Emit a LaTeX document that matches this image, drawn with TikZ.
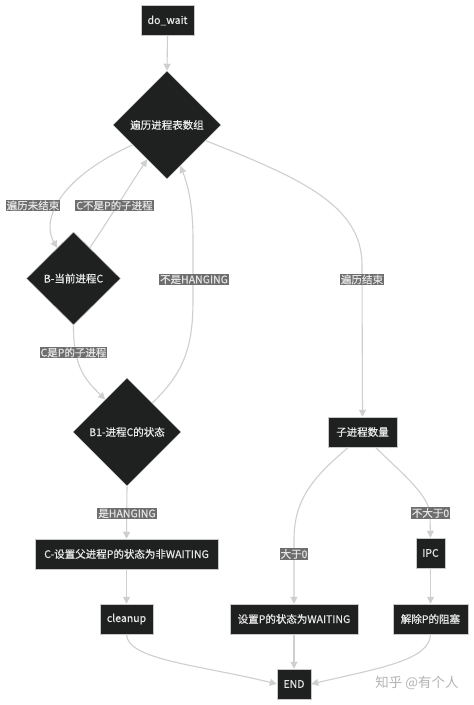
\documentclass[tikz,border=0pt]{standalone}
\usepackage{fontspec}
\setmainfont[FakeBold=0.6]{Noto Sans CJK SC}
\newfontfamily\wmfont{Noto Sans CJK SC}
\usetikzlibrary{shapes.geometric,arrows.meta}
\definecolor{nodefill}{HTML}{1F2020}
\definecolor{nodeline}{HTML}{C8C8C8}
\definecolor{nodetext}{HTML}{E8E8E8}
\definecolor{edgecol}{HTML}{CFCFCF}
\definecolor{lblfill}{HTML}{6E6E6E}
\definecolor{lbltext}{HTML}{E4E4E4}
\definecolor{wmark}{HTML}{B4B4B4}
\begin{document}
\begin{tikzpicture}[x=1pt,y=-1pt,
  txt/.style={font=\fontsize{10.5}{12}\selectfont},
  box/.style={txt, draw=nodeline, fill=nodefill, text=nodetext, line width=0.5pt, inner sep=0pt, minimum height=30pt},
  dia/.style={txt, diamond, draw=nodeline, fill=nodefill, text=nodetext, line width=0.5pt, inner sep=0pt, aspect=1},
  lbl/.style={txt, fill=lblfill, text=lbltext, inner sep=1pt},
  edge/.style={draw=edgecol, line width=1.1pt, -{Triangle[length=7pt,width=7pt,fill=edgecol]}},
  plain/.style={draw=edgecol, line width=1.1pt}
]
\useasboundingbox (0,0) rectangle (474,705);
\fill[white] (0,0) rectangle (474,705);

% nodes
\node[box, minimum width=53pt] (dowait) at (167.5,20.5) {do\_wait};
\node[dia, minimum width=108pt, minimum height=108pt] (d1) at (167,125) {遍历进程表数组};
\node[dia, minimum width=94pt, minimum height=93pt] (b) at (73.5,278.5) {B-当前进程C};
\node[dia, minimum width=108pt, minimum height=108pt] (b1) at (127,432) {B1-进程C的状态};
\node[box, minimum width=183pt] (c) at (126.5,554) {C-设置父进程P的状态为非WAITING};
\node[box, minimum width=53pt] (cleanup) at (126.5,619) {cleanup};
\node[box, minimum width=69pt] (zi) at (362.5,432) {子进程数量};
\node[box, minimum width=29pt] (ipc) at (430.5,553) {IPC};
\node[box, minimum width=128pt] (setw) at (294,619) {设置P的状态为WAITING};
\node[box, minimum width=75pt] (unblock) at (430.5,619) {解除P的阻塞};
\node[box, minimum width=34pt] (endn) at (294,684) {END};

% edges
\draw[edge] (dowait.south) -- (d1.north);
\draw[edge] (d1.210) .. controls (55,180) and (42,222) .. (b.118);
\draw[edge] (b.62) .. controls (110,218) and (130,185) .. (d1.240);
\draw[edge] (b.south) .. controls (73,370) and (88,382) .. (b1.124);
\draw[edge] (b1.49) .. controls (185,372) and (193,345) .. (193,300)
   -- (193,240) .. controls (193,205) and (188,185) .. (d1.288);
\draw[edge] (d1.338) .. controls (300,178) and (362,205) .. (362,265) -- (zi.north);
\draw[edge] (b1.south) -- (c.north);
\draw[edge] (c.south) -- (cleanup.north);
\draw[edge] ([xshift=-14pt]zi.south) .. controls (312,478) and (294,500) .. (294,540) -- (setw.north);
\draw[edge] ([xshift=13pt]zi.south) .. controls (398,470) and (430,495) .. (430,515) -- (ipc.north);
\draw[edge] (ipc.south) -- (unblock.north);
\draw[edge] (cleanup.south) .. controls (127,660) and (200,665) .. (endn.west);
\draw[edge] (setw.south) -- (endn.north);
\draw[edge] (unblock.south) .. controls (430,660) and (380,668) .. (endn.east);

% labels
\node[lbl] (l1) at (33,205.5) {遍历未结束};
\node[lbl] (l2) at (114.5,205.5) {C不是P的子进程};
\node[lbl] (l3) at (194,279.5) {不是HANGING};
\node[lbl] (l4) at (362,279.5) {遍历结束};
\node[lbl] (l5) at (73.5,352.5) {C是P的子进程};
\node[lbl] (l6) at (127,513.5) {是HANGING};
\node[lbl] (l7) at (294,554) {大于0};
\node[lbl] (l8) at (430.5,513) {不大于0};

% watermark
\node[font=\wmfont\fontsize{13.5}{15}\selectfont, text=wmark] (wm) at (417,683) {知乎 @有个人};
\end{tikzpicture}
\end{document}
